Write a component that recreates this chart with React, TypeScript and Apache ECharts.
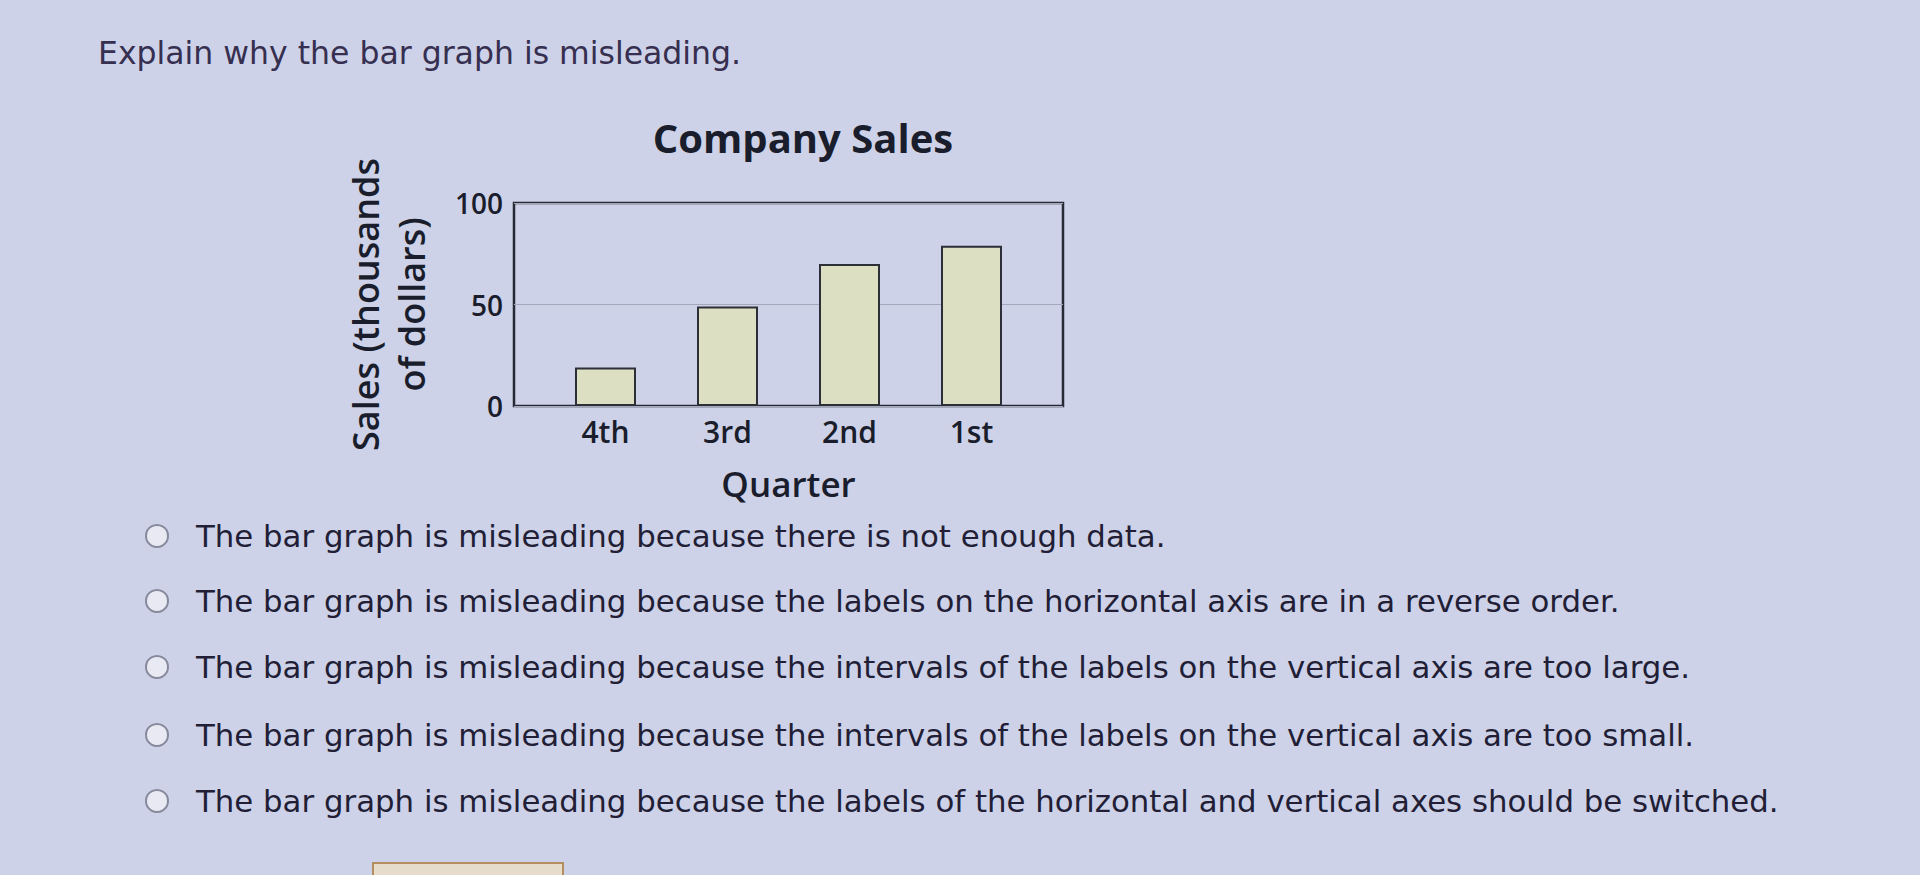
import React, { useEffect, useRef } from "react";
import * as echarts from "echarts";

const question = "Explain why the bar graph is misleading.";
const chartTitle = "Company Sales";
const quarters = ["4th", "3rd", "2nd", "1st"];
const sales = [19, 49, 70, 79];
const yTitle = "Sales (thousands\nof dollars)";
const xTitle = "Quarter";
const choices = [
  "The bar graph is misleading because there is not enough data.",
  "The bar graph is misleading because the labels on the horizontal axis are in a reverse order.",
  "The bar graph is misleading because the intervals of the labels on the vertical axis are too large.",
  "The bar graph is misleading because the intervals of the labels on the vertical axis are too small.",
  "The bar graph is misleading because the labels of the horizontal and vertical axes should be switched.",
];

const chartFont = "'Open Sans', 'Noto Sans', sans-serif";
const uiFont = "'DejaVu Sans', Verdana, sans-serif";
const ink = "#1a1d2b";

export default function App() {
  const ref = useRef<HTMLDivElement>(null);
  useEffect(() => {
    document.body.style.margin = "0";
    const chart = echarts.init(ref.current!, null, { renderer: "svg" });
    const rowY = [536, 601, 667, 735, 801];
    const graphics: any[] = [
      {
        type: "text",
        left: 98,
        top: 37,
        style: { text: question, font: `31.5px ${uiFont}`, fill: "#362f50" },
      },
    ];
    choices.forEach((c, i) => {
      graphics.push({
        type: "circle",
        shape: { cx: 157, cy: rowY[i], r: 11 },
        style: { fill: "#e8e9f3", stroke: "#878a9c", lineWidth: 2 },
      });
      graphics.push({
        type: "text",
        x: 196,
        y: rowY[i],
        style: {
          text: c,
          font: `30.8px ${uiFont}`,
          fill: "#221e36",
          textVerticalAlign: "middle",
        },
      });
    });
    graphics.push({
      type: "rect",
      shape: { x: 373, y: 863, width: 190, height: 20 },
      style: { fill: "#e6dccb", stroke: "#b58d5e", lineWidth: 2 },
    });
    chart.setOption({
      animation: false,
      backgroundColor: "#cdd2e9",
      title: {
        text: chartTitle,
        left: 798,
        top: 112,
        textAlign: "center",
        textStyle: {
          fontFamily: chartFont,
          fontSize: 40,
          fontWeight: "bold",
          color: ink,
        },
      },
      grid: {
        left: 514,
        right: 857,
        top: 203,
        bottom: 469,
        show: true,
        borderColor: "#262a35",
        borderWidth: 2.5,
        backgroundColor: "transparent",
      },
      xAxis: {
        type: "value",
        min: -0.75,
        max: 3.75,
        axisLine: { show: false },
        axisTick: { show: false },
        splitLine: { show: false },
        axisLabel: {
          customValues: [0, 1, 2, 3],
          formatter: (v: number) => quarters[Math.round(v)] ?? "",
          fontFamily: chartFont,
          fontSize: 30,
          fontWeight: 600,
          color: ink,
          margin: 10,
        },
        name: xTitle,
        nameLocation: "middle",
        nameGap: 60,
        nameTextStyle: {
          fontFamily: chartFont,
          fontSize: 35,
          fontWeight: 600,
          color: ink,
        },
      },
      yAxis: {
        type: "value",
        min: 0,
        max: 100,
        interval: 50,
        axisLine: { show: false },
        axisTick: { show: false },
        splitLine: {
          show: true,
          lineStyle: { color: "#a3a8ba", width: 1 },
        },
        axisLabel: {
          fontFamily: chartFont,
          fontSize: 28,
          fontWeight: 600,
          color: ink,
          margin: 11,
          showMinLabel: true,
          showMaxLabel: true,
        },
        name: yTitle,
        nameLocation: "middle",
        nameGap: 80,
        nameRotate: 90,
        nameTextStyle: {
          fontFamily: chartFont,
          fontSize: 36,
          fontWeight: 600,
          lineHeight: 46,
          color: ink,
          align: "center",
        },
      },
      series: [
        {
          type: "bar",
          data: sales.map((v, i) => [i, v]),
          barWidth: 61,
          itemStyle: {
            color: "#dddfc3",
            borderColor: "#2c2f37",
            borderWidth: 2,
          },
        },
      ],
      graphic: graphics,
    });
    return () => chart.dispose();
  }, []);
  return (
    <div
      ref={ref}
      style={{ position: "fixed", left: 0, top: 0, width: 1920, height: 875 }}
    />
  );
}
